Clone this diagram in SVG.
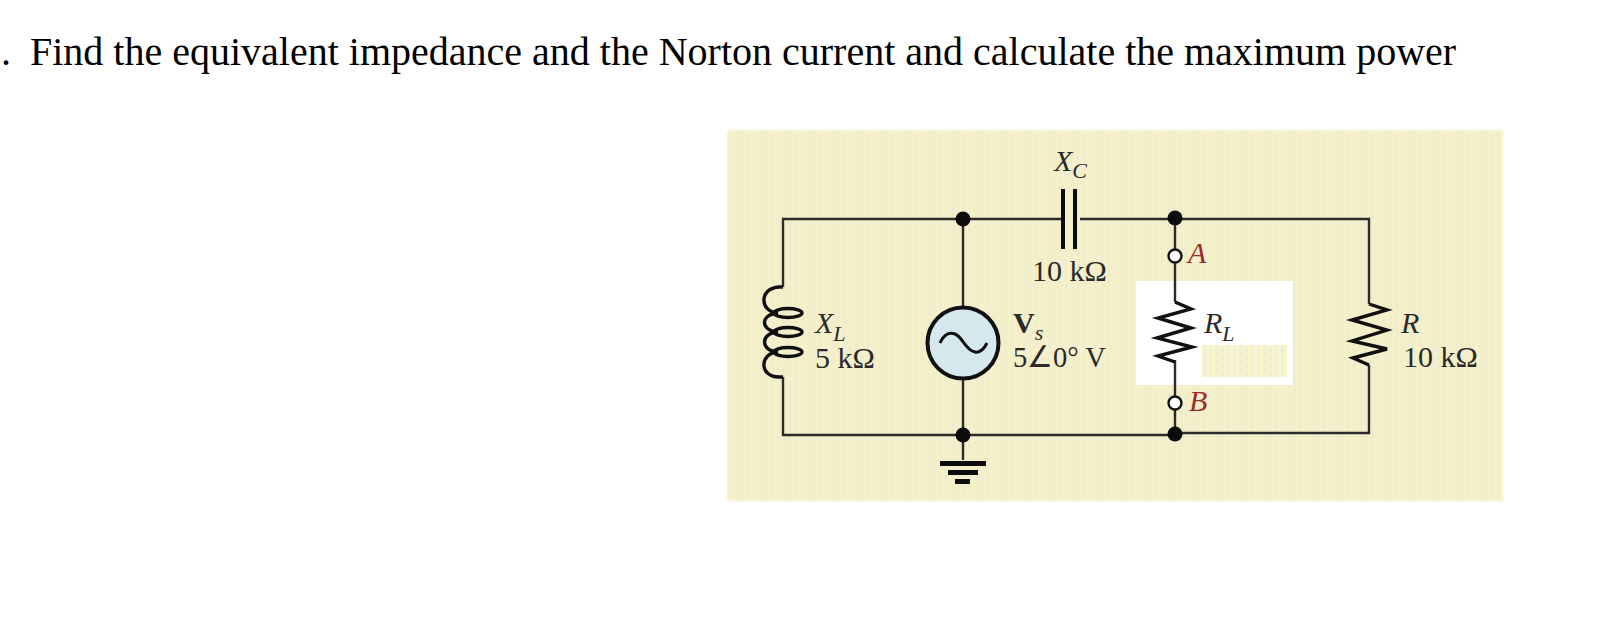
<svg xmlns="http://www.w3.org/2000/svg" width="1619" height="633" viewBox="0 0 1619 633">
<defs>
<pattern id="tex" width="12" height="8" patternUnits="userSpaceOnUse">
<rect width="12" height="8" fill="#f3efcf"/>
<rect x="0" y="0" width="3" height="8" fill="#f7f3bf"/>
<rect x="6" y="0" width="3" height="8" fill="#f6f1c4"/>
<rect x="3" y="0" width="3" height="4" fill="#ebe9d6"/>
<rect x="9" y="4" width="3" height="4" fill="#ebe9d6"/>
</pattern>
<filter id="soft" x="-2%" y="-2%" width="104%" height="104%"><feGaussianBlur stdDeviation="1.1"/></filter>
</defs>
<style>
text{font-family:"Liberation Serif","Times New Roman",serif;fill:#2a2a2a}
.t{font-size:40px;fill:#000}
.l{font-size:30px}
.s{font-size:22px}
.i{font-style:italic}
.w{fill:none;stroke:#2b2b2b;stroke-width:2.4;stroke-linejoin:miter}
.c{fill:none;stroke:#111;stroke-width:3.4;stroke-linejoin:miter}
.d{fill:#0c0c0c}
.o{fill:#fff;stroke:#111;stroke-width:2.4}
.r{fill:#9c2b2b}
</style>
<rect width="1619" height="633" fill="#fff"/>
<text class="t" x="1" y="65">.</text>
<text id="title" class="t" x="30" y="65">Find the equivalent impedance and the Norton current and calculate the maximum power</text>
<rect id="panel" x="727" y="130" width="776" height="371" fill="url(#tex)" filter="url(#soft)"/>
<rect x="1136" y="281" width="157" height="104" fill="#fff"/>
<rect x="1202" y="345" width="85" height="32" fill="url(#tex)" opacity=".85"/>
<g id="connectors">
<path class="w" d="M1062 219H783V287M783 377V435H1175M1080 219H1369V304M1369 365V433H1175"/>
<path class="w" d="M963 219V306M963 380V460M1175 218V302M1175 360V434"/>
</g>
<g id="inductor">
<path class="c" d="M783 287H779C759 288 759 312 778 313C760 314 760 331 778 332C760 333 760 351 778 352C759 353 759 377 779 377H783"/>
<ellipse class="c" cx="788" cy="313" rx="14" ry="4.5"/>
<ellipse class="c" cx="788" cy="332" rx="14" ry="4.5"/>
<ellipse class="c" cx="788" cy="352" rx="14" ry="4.5"/>
<text class="l i" x="815" y="333">X<tspan class="s" dy="8">L</tspan></text>
<text class="l" x="815" y="368">5 kΩ</text>
</g>
<g id="source">
<circle cx="963" cy="343" r="35.5" fill="#d4e8ee" stroke="#111" stroke-width="4"/>
<path d="M940 343C944 334 950 332 955 334C963 337 965 350 975 352C980 353 984 349 987 343" fill="none" stroke="#111" stroke-width="3"/>
<text class="l" x="1013" y="333" font-weight="bold">V<tspan class="i s" font-weight="normal" dy="7">s</tspan></text>
<text class="l" x="1013" y="367" textLength="93" lengthAdjust="spacingAndGlyphs">5∠0° V</text>
</g>
<g id="ground">
<rect class="d" x="940" y="461" width="46" height="5"/>
<rect class="d" x="948" y="470" width="30" height="5"/>
<rect class="d" x="955" y="479" width="15" height="5"/>
</g>
<g id="capacitor">
<rect class="d" x="1061" y="189" width="4" height="60"/>
<rect class="d" x="1073" y="189" width="4" height="60"/>
<text class="l i" x="1054" y="171">X<tspan class="s" dy="7">C</tspan></text>
<text class="l" x="1032" y="281">10 kΩ</text>
</g>
<g id="load">
<path class="c" d="M1175 302L1191 309L1158 318L1191 328L1157 338L1192 347L1158 356L1175 362"/>
<text class="l i" x="1204" y="333">R<tspan class="s" dy="8">L</tspan></text>
</g>
<g id="resistor">
<path class="c" d="M1369 304L1387 310L1352 320L1387 330L1352 341L1387 349L1353 358L1369 365"/>
<text class="l i" x="1401" y="333">R</text>
<text class="l" x="1403" y="367">10 kΩ</text>
</g>
<g id="nodes">
<circle class="d" cx="963" cy="219" r="7.5"/>
<circle class="d" cx="963" cy="435" r="7.5"/>
<circle class="d" cx="1175" cy="218" r="7.5"/>
<circle class="d" cx="1175" cy="434" r="7.5"/>
<circle class="o" cx="1175" cy="256" r="6.5"/>
<circle class="o" cx="1175" cy="403" r="6.5"/>
</g>
<text class="l i r" x="1188" y="263">A</text>
<text class="l i r" x="1189" y="411">B</text>
</svg>
